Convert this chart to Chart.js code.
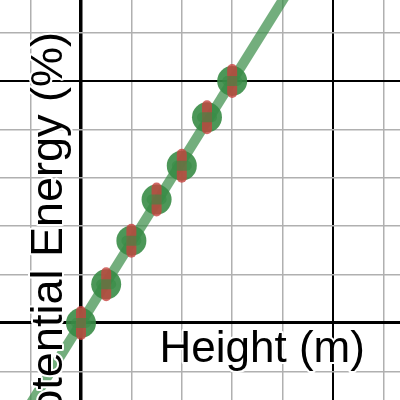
<!DOCTYPE html>
<html>

<head>
  <meta charset="UTF-8" />
  <title>Potential Energy vs Height</title>
  <script src="https://cdn.jsdelivr.net/npm/chart.js"></script>
  <style>
    html, body { margin: 0; padding: 0; background: #fff; overflow: hidden; }
    .chart-box { position: relative; width: 400px; height: 400px; }
  </style>
</head>

<body>
  <div class="chart-box">
    <canvas id="chart1"></canvas>
  </div>

  <script>
    // measured points
    const heightM = [0, 0.5, 1, 1.5, 2, 2.5, 3];
    const energyPct = [0, 16, 34, 51, 65, 85, 100];

    // ends of the fitted line (runs off both edges)
    const fitX = [-1.2, 4.2];
    const fitY = [-40, 140];

    const xTitle = 'Height (m)';
    const yTitle = 'Potential Energy (%)';

    const green = 'rgba(56, 140, 70, 0.9)';
    const greenLine = 'rgba(56, 140, 70, 0.7)';
    const red = 'rgba(199, 68, 64, 0.8)';

    const toPoints = (xs, ys) => xs.map((x, i) => ({ x: x, y: ys[i] }));

    // round caps for the error bars
    const capPlugin = {
      id: 'caps',
      beforeDatasetDraw(chart, args) {
        if (args.index >= 2) chart.ctx.lineCap = 'round';
      },
      afterDatasetDraw(chart) {
        chart.ctx.lineCap = 'butt';
      }
    };

    // axis labels sit inside the grid like the original
    const labelPlugin = {
      id: 'labels',
      afterDraw(chart) {
        const ctx = chart.ctx;
        ctx.save();
        ctx.lineJoin = 'round';
        ctx.strokeStyle = '#fff';
        ctx.lineWidth = 4;
        ctx.fillStyle = '#000';

        ctx.font = '44px "Liberation Sans", Arial, sans-serif';
        ctx.textAlign = 'left';
        ctx.textBaseline = 'alphabetic';
        ctx.strokeText(xTitle, 159.5, 362);
        ctx.fillText(xTitle, 159.5, 362);

        ctx.font = '45px "Liberation Sans", Arial, sans-serif';
        ctx.translate(62, 32);
        ctx.rotate(-Math.PI / 2);
        ctx.textAlign = 'right';
        ctx.strokeText(yTitle, 0, 0);
        ctx.fillText(yTitle, 0, 0);
        ctx.restore();
      }
    };

    const gridColor = (big, mid) => (c) => {
      const v = c.tick.value;
      if (v === big || v === mid) return '#000';
      return '#b0b0b0';
    };

    new Chart(document.getElementById('chart1'), {
      type: 'scatter',
      data: {
        datasets: [
          {
            type: 'line',
            data: toPoints(fitX, fitY),
            borderColor: greenLine,
            borderWidth: 10,
            pointRadius: 0,
            order: 4
          },
          {
            data: toPoints(heightM, energyPct),
            pointStyle: 'circle',
            pointRadius: 15,
            pointBackgroundColor: green,
            pointBorderWidth: 0,
            order: 3
          },
          {
            data: toPoints(heightM, energyPct),
            pointStyle: 'line',
            rotation: 90,
            pointRadius: 12,
            pointBorderColor: red,
            pointBorderWidth: 10,
            order: 2
          },
          {
            data: toPoints(heightM, energyPct),
            pointStyle: 'line',
            pointRadius: 5,
            pointBorderColor: 'rgba(56, 140, 70, 0.6)',
            pointBorderWidth: 10,
            order: 1
          }
        ]
      },
      options: {
        responsive: true,
        maintainAspectRatio: false,
        animation: false,
        layout: { padding: 0, autoPadding: false },
        plugins: {
          legend: { display: false },
          tooltip: { enabled: false }
        },
        scales: {
          x: {
            type: 'linear',
            min: -1.607,
            max: 6.33,
            border: { display: false },
            ticks: { display: false, stepSize: 1, includeBounds: false },
            grid: {
              drawTicks: false,
              color: gridColor(0, 5),
              lineWidth: (c) => c.tick.value === 0 ? 3.5 : (c.tick.value === 5 ? 2 : 1.5)
            }
          },
          y: {
            type: 'linear',
            min: -31.82,
            max: 133.47,
            border: { display: false },
            ticks: { display: false, stepSize: 20, includeBounds: false },
            grid: {
              drawTicks: false,
              color: gridColor(0, 100),
              lineWidth: (c) => c.tick.value === 0 ? 3 : (c.tick.value === 100 ? 2 : 1.5)
            }
          }
        }
      },
      plugins: [capPlugin, labelPlugin]
    });
  </script>
</body>

</html>
